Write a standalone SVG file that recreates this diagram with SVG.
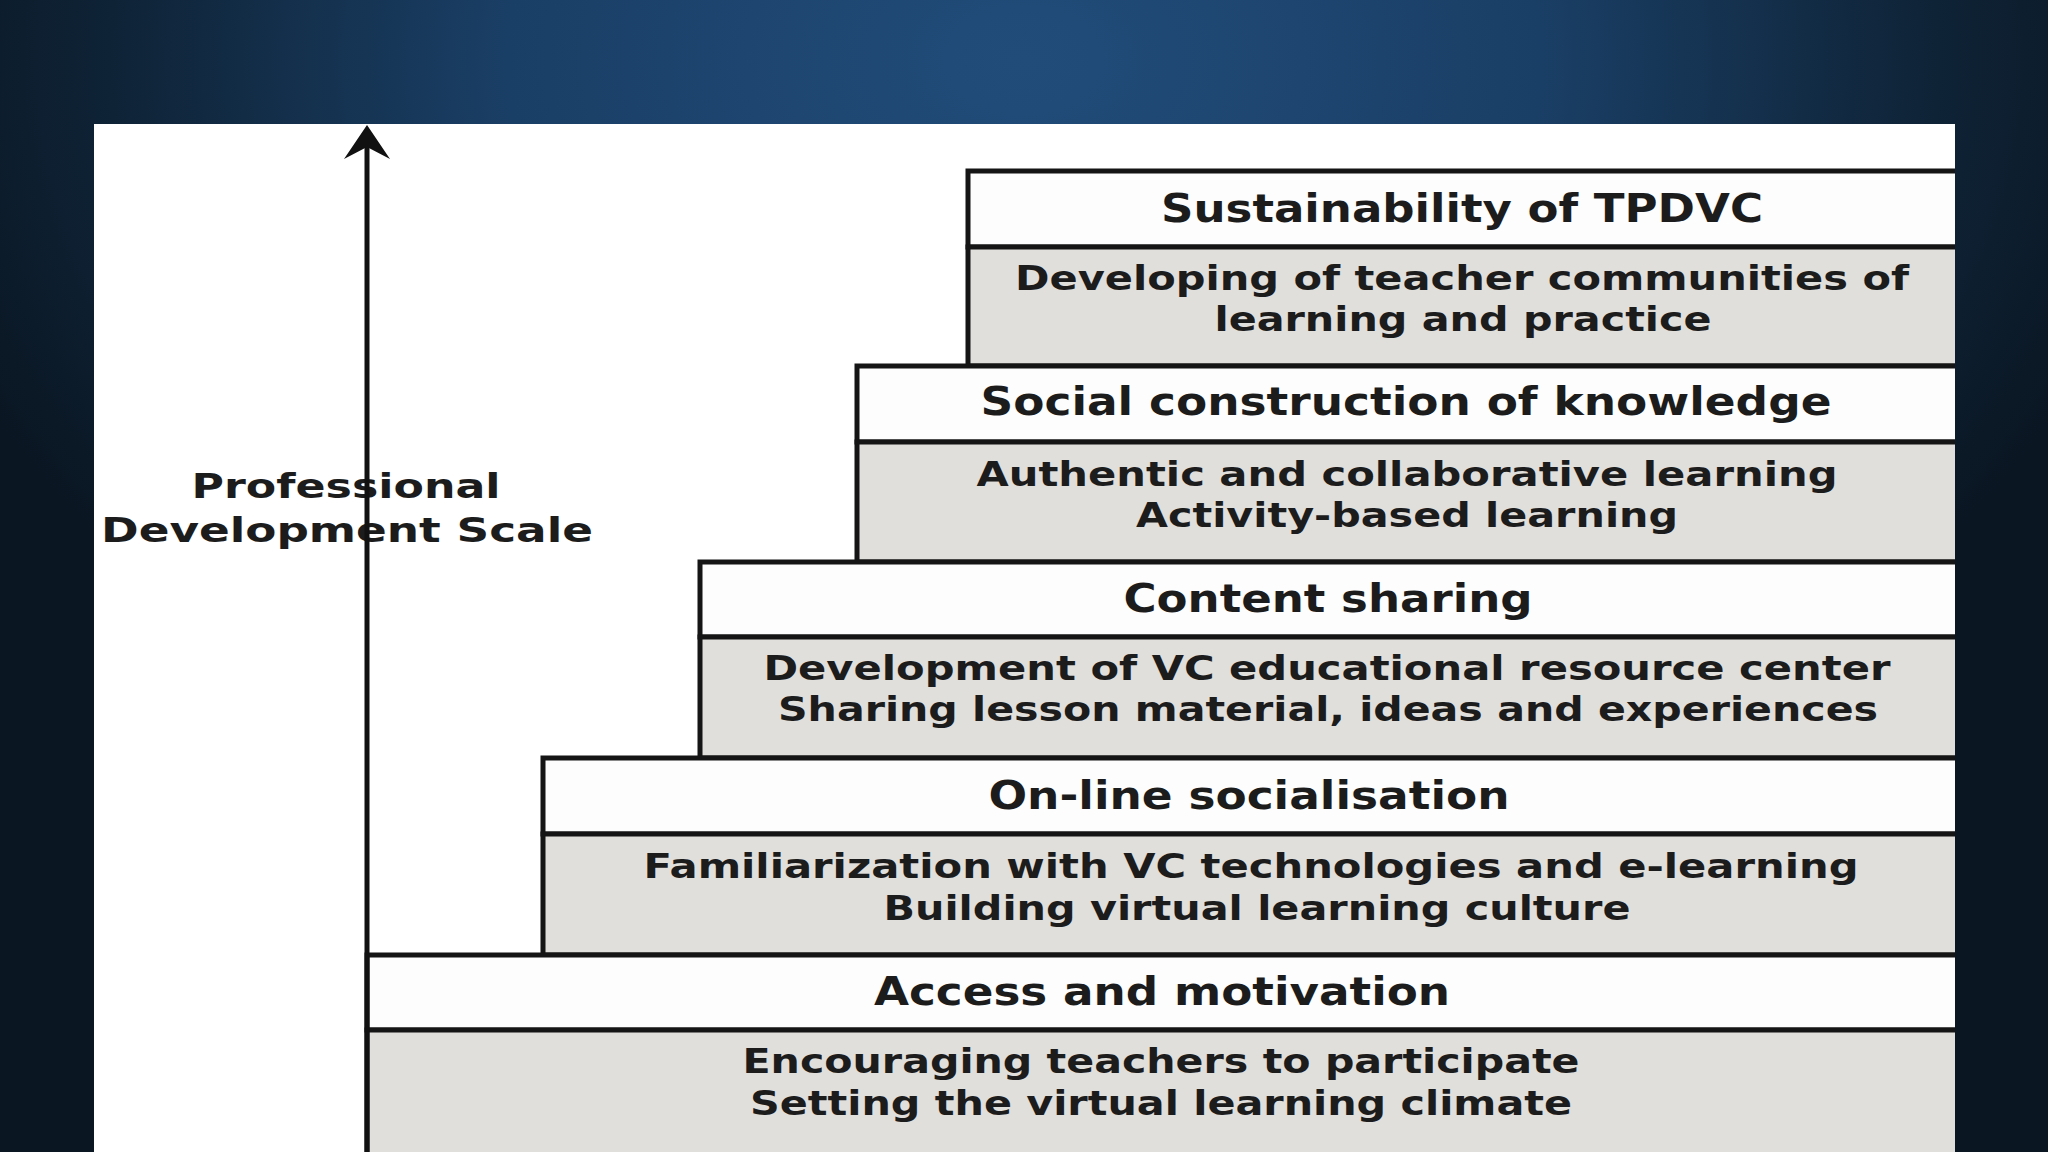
<svg xmlns="http://www.w3.org/2000/svg" width="2048" height="1152" viewBox="0 0 2048 1152">
  <defs>
    <radialGradient id="bg" cx="1024" cy="60" r="1150" gradientUnits="userSpaceOnUse" gradientTransform="translate(1024 60) scale(1 0.7) translate(-1024 -60)">
      <stop offset="0" stop-color="#214c7a"/>
      <stop offset="0.45" stop-color="#1a3f66"/>
      <stop offset="0.78" stop-color="#0f2438"/>
      <stop offset="1" stop-color="#0a1622"/>
    </radialGradient>
    <clipPath id="panelClip">
      <rect x="94" y="124" width="1861" height="1040"/>
    </clipPath>
    <marker id="arrowHead" markerUnits="userSpaceOnUse" viewBox="-38 -28 44 56" markerWidth="44" markerHeight="56" refX="-15" refY="0" orient="auto" overflow="visible">
      <path d="M0,0 L-34,-23 L-22,0 L-34,23 Z" fill="#111"/>
    </marker>
    <style>
      .hdr { fill: #fdfdfd; stroke: #151515; stroke-width: 5; }
      .body { fill: #e1dfdc; stroke: #151515; stroke-width: 5; }
      text { font-family: "DejaVu Sans", Verdana, sans-serif; font-weight: bold; fill: #1c1c1c; text-anchor: middle; }
      .h { font-size: 39px; }
      .b { font-size: 33px; }
      .lbl { font-size: 33px; }
      .axis { stroke: #111; stroke-width: 5; fill: none; }
    </style>
  </defs>

  <rect x="0" y="0" width="2048" height="1152" fill="url(#bg)"/>
  <rect id="panel" x="94" y="124" width="1861" height="1040" fill="#ffffff"/>

  <g id="label">
    <text class="lbl" x="346" y="498" textLength="309" lengthAdjust="spacingAndGlyphs">Professional</text>
    <text class="lbl" x="347" y="542" textLength="492" lengthAdjust="spacingAndGlyphs">Development Scale</text>
  </g>

  <g clip-path="url(#panelClip)">
    <g id="step5">
      <rect class="hdr" x="968" y="171" width="1000" height="76"/>
      <rect class="body" x="968" y="247" width="1000" height="119"/>
      <text class="h" x="1462" y="222" textLength="602" lengthAdjust="spacingAndGlyphs">Sustainability of TPDVC</text>
      <text class="b" x="1462" y="290" textLength="894" lengthAdjust="spacingAndGlyphs">Developing of teacher communities of</text>
      <text class="b" x="1463" y="331" textLength="497" lengthAdjust="spacingAndGlyphs">learning and practice</text>
    </g>
    <g id="step4">
      <rect class="hdr" x="857" y="366" width="1111" height="76"/>
      <rect class="body" x="857" y="442" width="1111" height="120"/>
      <text class="h" x="1406" y="415" textLength="851" lengthAdjust="spacingAndGlyphs">Social construction of knowledge</text>
      <text class="b" x="1407" y="486" textLength="861" lengthAdjust="spacingAndGlyphs">Authentic and collaborative learning</text>
      <text class="b" x="1407" y="527" textLength="542" lengthAdjust="spacingAndGlyphs">Activity-based learning</text>
    </g>
    <g id="step3">
      <rect class="hdr" x="700" y="562" width="1268" height="75"/>
      <rect class="body" x="700" y="637" width="1268" height="121"/>
      <text class="h" x="1328" y="612" textLength="409" lengthAdjust="spacingAndGlyphs">Content sharing</text>
      <text class="b" x="1327" y="680" textLength="1127" lengthAdjust="spacingAndGlyphs">Development of VC educational resource center</text>
      <text class="b" x="1328" y="721" textLength="1100" lengthAdjust="spacingAndGlyphs">Sharing lesson material, ideas and experiences</text>
    </g>
    <g id="step2">
      <rect class="hdr" x="543" y="758" width="1425" height="76"/>
      <rect class="body" x="543" y="834" width="1425" height="121"/>
      <text class="h" x="1249" y="809" textLength="521" lengthAdjust="spacingAndGlyphs">On-line socialisation</text>
      <text class="b" x="1251" y="878" textLength="1215" lengthAdjust="spacingAndGlyphs">Familiarization with VC technologies and e-learning</text>
      <text class="b" x="1257" y="920" textLength="747" lengthAdjust="spacingAndGlyphs">Building virtual learning culture</text>
    </g>
    <g id="step1">
      <rect class="hdr" x="367" y="955" width="1601" height="75"/>
      <rect class="body" x="367" y="1030" width="1601" height="140"/>
      <text class="h" x="1162" y="1005" textLength="576" lengthAdjust="spacingAndGlyphs">Access and motivation</text>
      <text class="b" x="1161" y="1073" textLength="837" lengthAdjust="spacingAndGlyphs">Encouraging teachers to participate</text>
      <text class="b" x="1161" y="1115" textLength="822" lengthAdjust="spacingAndGlyphs">Setting the virtual learning climate</text>
    </g>
  </g>

  <g id="connectors">
    <line class="axis" x1="367" y1="1152" x2="367" y2="140" marker-end="url(#arrowHead)"/>
  </g>
</svg>
